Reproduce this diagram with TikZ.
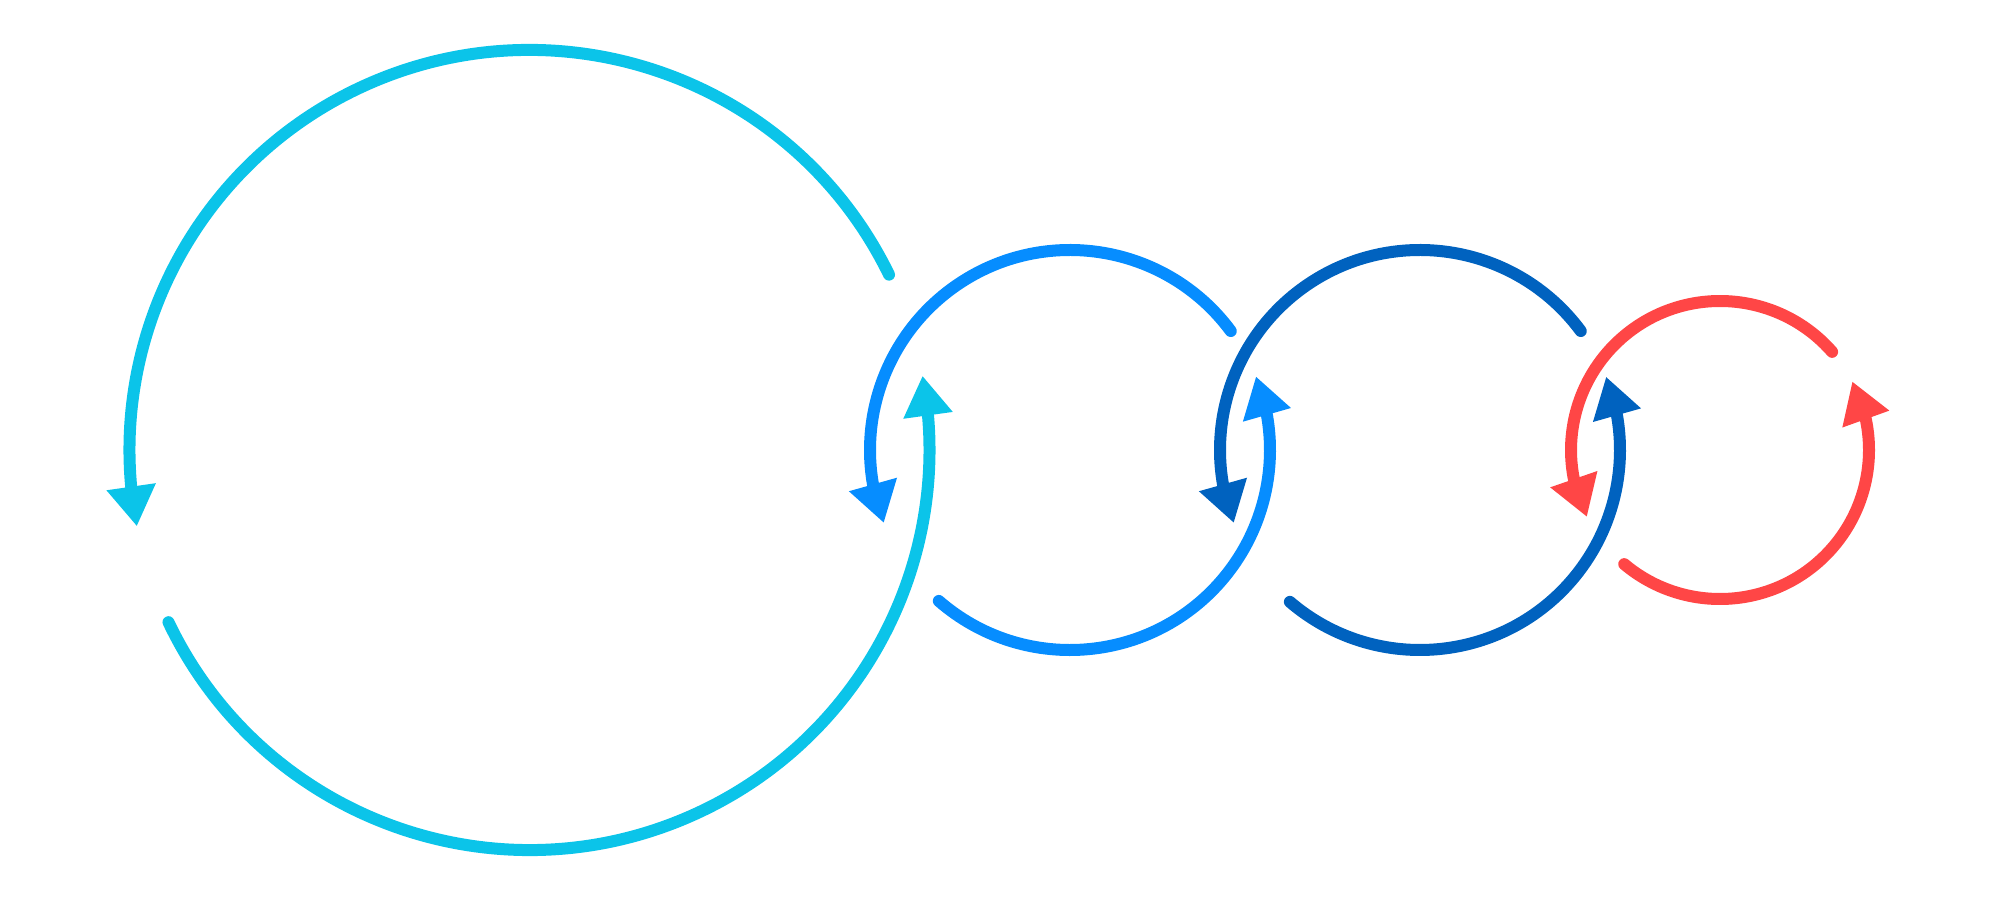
\documentclass[tikz,border=0pt]{standalone}
\usetikzlibrary{arrows.meta,bending}
\definecolor{ccyan}{HTML}{0BC4E9}
\definecolor{cblue}{HTML}{068DFF}
\definecolor{cdark}{HTML}{0062BF}
\definecolor{cred}{HTML}{FF4646}
\begin{document}
\begin{tikzpicture}[x=0.5pt,y=0.5pt,
  cyc/.style={line width=6pt, line cap=round, -{Triangle[length=20pt,width=23.5pt,flex]}}]
\useasboundingbox (0,0) rectangle (2000,900);
\coordinate (c1) at (529.5,450);
\coordinate (c2) at (1070,450);
\coordinate (c3) at (1420,450);
\coordinate (c4) at (1720,450);
% circle 1
\draw[cyc,ccyan] ([shift={(26:400)}]c1) arc[start angle=26,end angle=191,radius=400];
\draw[cyc,ccyan] ([shift={(205.5:400)}]c1) arc[start angle=205.5,end angle=370.7,radius=400];
% circle 2
\draw[cyc,cblue] ([shift={(36.5:200)}]c2) arc[start angle=36.5,end angle=201.4,radius=200];
\draw[cyc,cblue] ([shift={(229:200)}]c2) arc[start angle=229,end angle=381.6,radius=200];
% circle 3
\draw[cyc,cdark] ([shift={(36.5:200)}]c3) arc[start angle=36.5,end angle=201.4,radius=200];
\draw[cyc,cdark] ([shift={(229.4:200)}]c3) arc[start angle=229.4,end angle=381.5,radius=200];
% circle 4
\draw[cyc,cred] ([shift={(41.2:149)}]c4) arc[start angle=41.2,end angle=206.7,radius=149];
\draw[cyc,cred] ([shift={(230:149)}]c4) arc[start angle=230,end angle=387.4,radius=149];
\end{tikzpicture}
\end{document}
